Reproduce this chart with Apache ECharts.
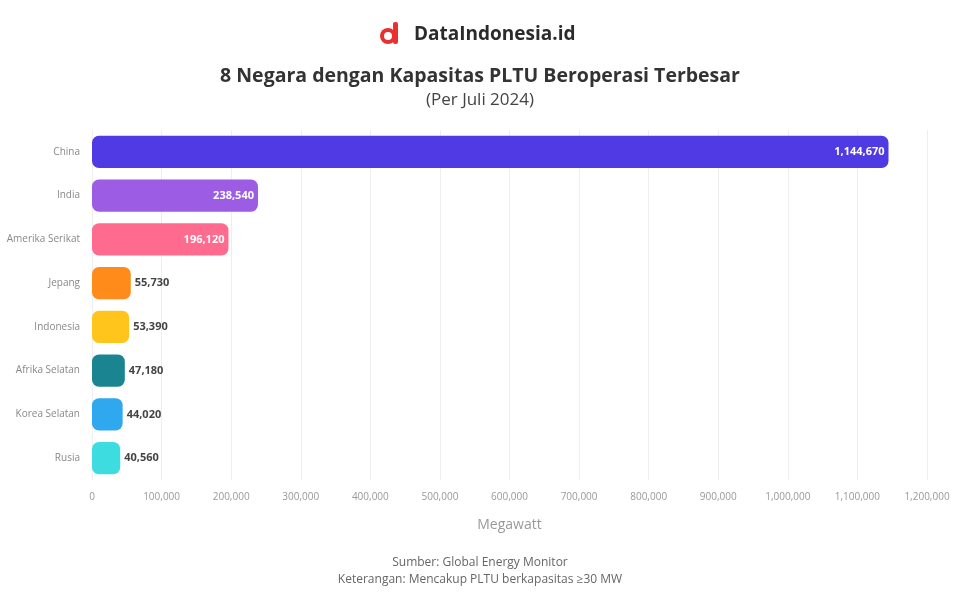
<!DOCTYPE html>
<html><head><meta charset="utf-8">
<script src="https://cdn.jsdelivr.net/npm/echarts@6/dist/echarts.min.js"></script>
<style>html,body{margin:0;padding:0;background:#fff}#c{width:960px;height:600px}</style>
</head><body><div id="c"></div>
<script>
const categories = ["China","India","Amerika Serikat","Jepang","Indonesia","Afrika Selatan","Korea Selatan","Rusia"];
const values = [1144670, 238540, 196120, 55730, 53390, 47180, 44020, 40560];
const colors = ["#4f3ae3","#9c5ce3","#ff6b8e","#ff8b1a","#ffc51c","#1a8591","#2fa8ef","#3ddce0"];
const xTicks = {min:0, max:1200000, interval:100000};
const titleText = "8 Negara dengan Kapasitas PLTU Beroperasi Terbesar";
const subtitleText = "(Per Juli 2024)";
const axisName = "Megawatt";
const sourceLines = ["Sumber: Global Energy Monitor","Keterangan: Mencakup PLTU berkapasitas ≥30 MW"];

const fmt = v => v.toLocaleString('en-US');
const chart = echarts.init(document.getElementById('c'));
chart.setOption({
  animation:false,
  backgroundColor:'#fff',
  textStyle:{fontFamily:'Open Sans'},
  title:[
    {text:titleText, left:'center', top:61, textStyle:{fontSize:19.5, fontWeight:'bold', color:'#333', fontFamily:'Open Sans'}},
    {text:subtitleText, left:'center', top:87, textStyle:{fontSize:17, fontWeight:'normal', color:'#444', fontFamily:'Open Sans'}}
  ],
  graphic:[
    {type:'circle', shape:{cx:388, cy:36, r:8}, style:{fill:'#e8312f'}},
    {type:'rect', shape:{x:393, y:22, width:5, height:22, r:2}, style:{fill:'#e8312f'}},
    {type:'circle', shape:{cx:388, cy:36, r:4}, style:{fill:'#fff'}},
    {type:'text', style:{text:'DataIndonesia.id', x:414, y:35, verticalAlign:'middle', fontSize:19, fontWeight:'bold', fill:'#2b2b2b', fontFamily:'Open Sans'}},
    {type:'text', style:{text:sourceLines[0], x:480, y:563, align:'center', verticalAlign:'middle', fontSize:12, fill:'#666', fontFamily:'Open Sans'}},
    {type:'text', style:{text:sourceLines[1], x:480, y:580, align:'center', verticalAlign:'middle', fontSize:12, fill:'#666', fontFamily:'Open Sans'}}
  ],
  grid:{left:92, right:33, top:130, bottom:120, containLabel:false},
  xAxis:{type:'value', min:xTicks.min, max:xTicks.max, interval:xTicks.interval,
    name:axisName, nameLocation:'middle', nameGap:38, nameTextStyle:{color:'#999', fontSize:14},
    axisLine:{show:false}, axisTick:{show:false},
    axisLabel:{color:'#999', fontSize:10, formatter:v=>fmt(v), margin:12},
    splitLine:{lineStyle:{color:'#eee'}}},
  yAxis:{type:'category', data:categories, inverse:true,
    axisLine:{show:false}, axisTick:{show:false},
    axisLabel:{color:'#888', fontSize:10, margin:12}},
  series:[{type:'bar', barCategoryGap:'26%',
    data:values.map((v,i)=>({value:v, itemStyle:{color:colors[i], borderRadius:7},
      label:{show:true, position: i<3?'insideRight':'right', color: i<3?'#fff':'#444',
        fontWeight:'bold', fontSize:11, distance:4, formatter:p=>fmt(p.value)}}))
  }]
});
</script></body></html>
